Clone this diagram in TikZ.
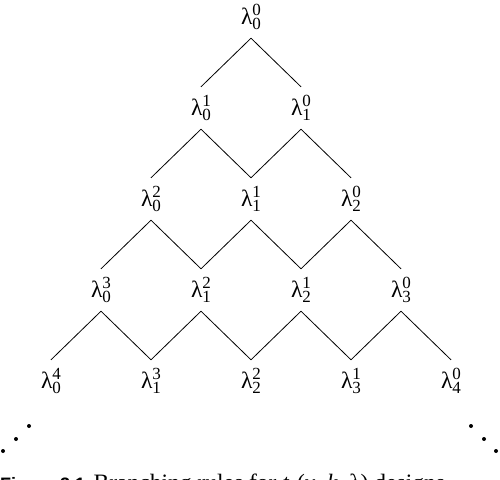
\documentclass[tikz,border=0pt]{standalone}
\usepackage{fontspec}
\setmainfont{Liberation Serif}
\setsansfont{Liberation Sans}
\newcommand{\scr}[1]{{\fontsize{17}{19}\selectfont #1}}
\newcommand{\lam}[2]{λ\makebox[0pt][l]{\raisebox{9pt}{\scr{#2}}}\raisebox{-5.5pt}{\scr{#1}}}
\begin{document}
\begin{tikzpicture}[x=1pt,y=1pt,
  lab/.style={inner sep=0pt,minimum height=42pt,font=\fontsize{23.5}{27}\selectfont},
  edge/.style={line width=0.8pt},
  dotmark/.style={fill=black}]
\useasboundingbox (0,0) rectangle (500,479);
% nodes
\foreach \r in {0,...,4}{
  \foreach \i in {0,...,\r}{
    \pgfmathtruncatemacro{\j}{\r-\i}
    \node[lab] (n\r\i) at ({251+50*(2*\i-\r)},{479-17-91*\r}) {\lam{\i}{\j}};
  }
}
% edges
\foreach \r in {0,...,3}{
  \pgfmathtruncatemacro{\rn}{\r+1}
  \foreach \i in {0,...,\r}{
    \pgfmathtruncatemacro{\ip}{\i+1}
    \draw[edge] (n\r\i.south) -- (n\rn\i.north);
    \draw[edge] (n\r\i.south) -- (n\rn\ip.north);
  }
}
% continuation dots
\foreach \p in {(3,28),(16,40),(29,53),(471,53),(484,40),(496,28)}
  \fill[dotmark] \p circle (2);
% caption (cut off by the page edge)
\node[anchor=base west,inner sep=0pt] (cap) at (0,-11)
  {{\fontsize{18}{22}\selectfont\sffamily\bfseries Figure 3.1:}\ {\fontsize{23.5}{28}\selectfont Branching rules for \textit{t}-(\textit{v}, \textit{k}, λ) designs}};
\end{tikzpicture}
\end{document}
